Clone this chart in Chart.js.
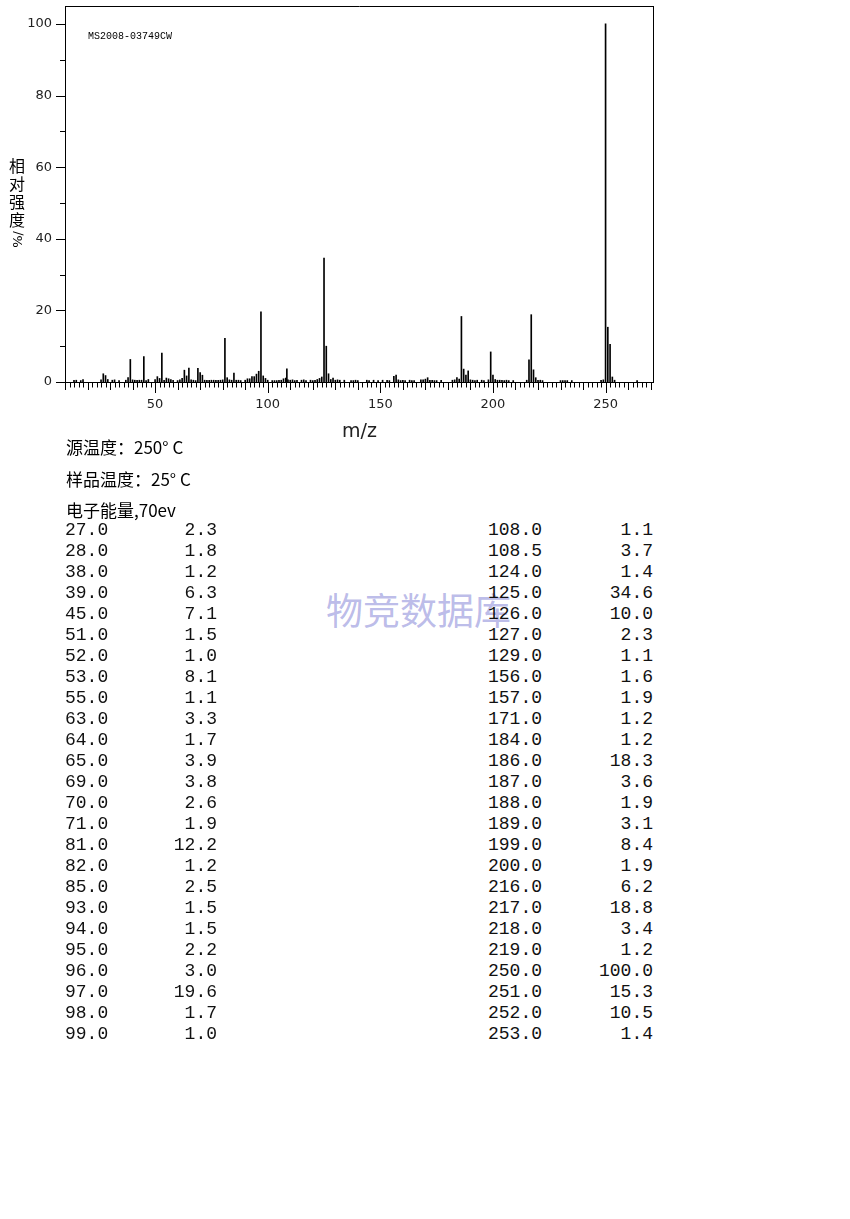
<!DOCTYPE html>
<html>
<head>
<meta charset="utf-8">
<script src="https://cdn.jsdelivr.net/npm/chart.js@4.4.1/dist/chart.umd.min.js"></script>
<style>
  html, body { margin: 0; padding: 0; background: #fff; }
  #page { position: relative; width: 850px; height: 1219px; overflow: hidden; }
  #chart-box { position: absolute; left: 0; top: 0; width: 850px; height: 445px; }
  .code { position: absolute; left: 88px; top: 31px; font: 10px "Liberation Mono", monospace; color: #000; }
  .ylab { position: absolute; left: 8px; top: 156px; width: 18px; font: 16px "Noto Sans CJK SC", sans-serif; line-height: 18px; text-align: center; color: #000; }
  .ylab .rot { display: inline-block; transform: rotate(-90deg); font: 13px "DejaVu Sans", sans-serif; margin-top: 4px; }
  .info { position: absolute; left: 66px; font: 17px "Noto Sans CJK SC", sans-serif; line-height: 20px; color: #000; white-space: pre; }
  .row { position: absolute; height: 21px; line-height: 21px; font: 18px "Liberation Mono", monospace; color: #111; }
  .row .v { position: absolute; right: 0; top: 0; }
  .mark { position: absolute; left: 326px; top: 586px; font: 37px "Noto Sans CJK SC", sans-serif; color: rgba(150, 150, 220, 0.65); line-height: 46px; }
</style>
</head>
<body>
<div id="page">
  <div class="mark">物竞数据库</div>
  <div id="chart-box"><canvas id="ms" width="850" height="445"></canvas></div>
  <div class="code">MS2008-03749CW</div>
  <div class="ylab">相<br>对<br>强<br>度<br><span class="rot">%/</span></div>
  <div class="info" style="top:437px">源温度：250° C</div>
  <div class="info" style="top:469px">样品温度：25° C</div>
  <div class="info" style="top:500px">电子能量,70ev</div>
  <div id="table"></div>
</div>
<script>
"use strict";

// listed peaks (m/z, relative intensity %)
const peakMz = [27, 28, 38, 39, 45, 51, 52, 53, 55, 63, 64, 65, 69, 70, 71, 81, 82, 85, 93, 94, 95, 96, 97, 98, 99,
  108, 108.5, 124, 125, 126, 127, 129, 156, 157, 171, 184, 186, 187, 188, 189, 199, 200, 216, 217, 218, 219, 250, 251, 252, 253];
const peakInt = [2.3, 1.8, 1.2, 6.3, 7.1, 1.5, 1.0, 8.1, 1.1, 3.3, 1.7, 3.9, 3.8, 2.6, 1.9, 12.2, 1.2, 2.5, 1.5, 1.5, 2.2, 3.0, 19.6, 1.7, 1.0,
  1.1, 3.7, 1.4, 34.6, 10.0, 2.3, 1.1, 1.6, 1.9, 1.2, 1.2, 18.3, 3.6, 1.9, 3.1, 8.4, 1.9, 6.2, 18.8, 3.4, 1.2, 100.0, 15.3, 10.5, 1.4];

// small unlisted peaks seen in the spectrum
const noiseMz = [14, 15, 17, 18, 26, 29, 31, 32, 34, 37, 40, 41, 42, 43, 44, 46, 47, 50, 54, 56, 57, 58, 60, 61, 62, 66, 67, 68,
  72, 73, 74, 75, 76, 77, 78, 79, 80, 83, 84, 86, 87, 88, 90, 91, 92, 100, 102, 103, 104, 105, 106, 107, 109, 110, 111, 112,
  113, 115, 116, 117, 119, 120, 121, 122, 123, 128, 130, 131, 132, 134, 137, 138, 139, 140, 144, 145, 147, 149, 151, 153, 154,
  158, 159, 160, 161, 163, 164, 165, 168, 169, 170, 172, 173, 174, 175, 177, 182, 183, 185, 190, 191, 192, 193, 195, 196,
  198, 201, 202, 203, 204, 205, 206, 207, 209, 215, 220, 221, 222, 230, 231, 232, 233, 235, 248, 249, 254, 264];
const noiseInt = [0.5, 0.5, 0.4, 0.7, 0.6, 0.7, 0.5, 0.6, 0.4, 0.5, 0.6, 0.5, 0.5, 0.5, 0.5, 0.4, 0.7, 0.7, 0.5, 0.9, 0.7, 0.5, 0.4, 0.6, 1.0, 0.6, 0.5, 0.4,
  0.5, 0.5, 0.5, 0.5, 0.5, 0.5, 0.5, 0.5, 0.6, 0.6, 0.5, 0.5, 0.5, 0.4, 0.5, 0.9, 0.9, 0.5, 0.4, 0.4, 0.4, 0.5, 0.5, 0.9, 0.6, 0.5, 0.6, 0.4,
  0.5, 0.5, 0.6, 0.4, 0.5, 0.4, 0.5, 0.7, 1.0, 0.7, 0.5, 0.6, 0.5, 0.5, 0.4, 0.4, 0.5, 0.4, 0.5, 0.4, 0.5, 0.4, 0.5, 0.5, 0.4,
  0.6, 0.4, 0.5, 0.4, 0.5, 0.4, 0.4, 0.6, 0.6, 0.8, 0.5, 0.5, 0.4, 0.4, 0.5, 0.5, 0.6, 0.8, 0.6, 0.5, 0.4, 0.5, 0.5, 0.4,
  0.6, 0.7, 0.5, 0.5, 0.5, 0.4, 0.5, 0.4, 0.4, 0.5, 0.5, 0.5, 0.4, 0.4, 0.4, 0.4, 0.4, 0.4, 0.5, 0.6, 0.5, 0.4];

const xMin = 10;
const xMax = 271.5;
const yMax = 105;

const points = peakMz.map((m, i) => ({ x: m, y: peakInt[i] }))
  .concat(noiseMz.map((m, i) => ({ x: m, y: noiseInt[i] })));

const frameTicks = {
  id: "frameTicks",
  afterDraw(chart) {
    const { ctx, chartArea: a, scales: { x, y } } = chart;
    ctx.save();
    ctx.strokeStyle = "#000";
    ctx.lineWidth = 1;
    ctx.beginPath();
    ctx.moveTo(a.left + 0.5, a.top);
    ctx.lineTo(a.left + 0.5, a.bottom + 1);
    ctx.moveTo(a.left, a.top + 0.5);
    ctx.lineTo(a.right, a.top + 0.5);
    ctx.moveTo(a.right - 0.5, a.top);
    ctx.lineTo(a.right - 0.5, a.bottom + 1);
    ctx.moveTo(a.left, a.bottom + 0.5);
    ctx.lineTo(a.right, a.bottom + 0.5);
    for (let v = 10; v <= 270; v += 2) {
      const px = Math.round(x.getPixelForValue(v)) + 0.5;
      const len = v % 50 === 0 ? 10 : v % 10 === 0 ? 7 : 4.5;
      ctx.moveTo(px, a.bottom);
      ctx.lineTo(px, a.bottom + 1 + len);
    }
    for (let v = 0; v <= 100; v += 10) {
      const py = Math.round(y.getPixelForValue(v)) + 0.5;
      const len = v % 20 === 0 ? 9 : 5;
      ctx.moveTo(a.left - len, py);
      ctx.lineTo(a.left, py);
    }
    ctx.stroke();
    ctx.restore();
  },
};

const tickFont = { family: "DejaVu Sans", size: 13 };

new Chart(document.getElementById("ms"), {
  type: "bar",
  data: {
    datasets: [{
      data: points,
      backgroundColor: "#000",
      borderWidth: 0,
      barThickness: 1,
    }],
  },
  options: {
    responsive: false,
    animation: false,
    events: [],
    layout: { padding: { left: 0, top: 6, right: 196, bottom: 0 } },
    plugins: { legend: { display: false }, tooltip: { enabled: false } },
    scales: {
      x: {
        type: "linear",
        min: xMin,
        max: xMax,
        offset: false,
        grid: { display: false, drawTicks: false },
        border: { display: false },
        ticks: {
          stepSize: 2,
          autoSkip: false,
          maxRotation: 0,
          padding: 15,
          color: "#222",
          font: tickFont,
          callback: (v) => (v % 50 === 0 ? String(v) : ""),
        },
        title: {
          display: true,
          text: "m/z",
          color: "#222",
          font: { family: "DejaVu Sans", size: 19 },
          padding: { top: 0, bottom: 2 },
        },
        afterFit: (s) => {
          s.height = 63;
          s.paddingLeft = 0;
          s.paddingRight = 0;
        },
      },
      y: {
        min: 0,
        max: yMax,
        grid: { display: false, drawTicks: false },
        border: { display: false },
        ticks: {
          stepSize: 10,
          padding: 13,
          color: "#222",
          font: tickFont,
          callback: (v) => (v % 20 === 0 ? String(v) : ""),
        },
        afterFit: (s) => {
          s.width = 65;
          s.paddingTop = 0;
          s.paddingBottom = 0;
        },
      },
    },
  },
  plugins: [frameTicks],
});

// peak table below the chart, 25 rows per column
const table = document.getElementById("table");
const rowsPerCol = 25;
const addRow = (left, width, top, m, v) => {
  const row = document.createElement("div");
  row.className = "row";
  row.style.left = left + "px";
  row.style.width = width + "px";
  row.style.top = top + "px";
  row.innerHTML = `<span>${m.toFixed(1)}</span><span class="v">${v.toFixed(1)}</span>`;
  table.appendChild(row);
};
peakMz.forEach((m, i) => {
  const r = i % rowsPerCol;
  const top = 519.5 + r * 21.04;
  if (i < rowsPerCol) addRow(65, 152, top, m, peakInt[i]);
  else addRow(488, 165, top, m, peakInt[i]);
});
</script>
</body>
</html>
